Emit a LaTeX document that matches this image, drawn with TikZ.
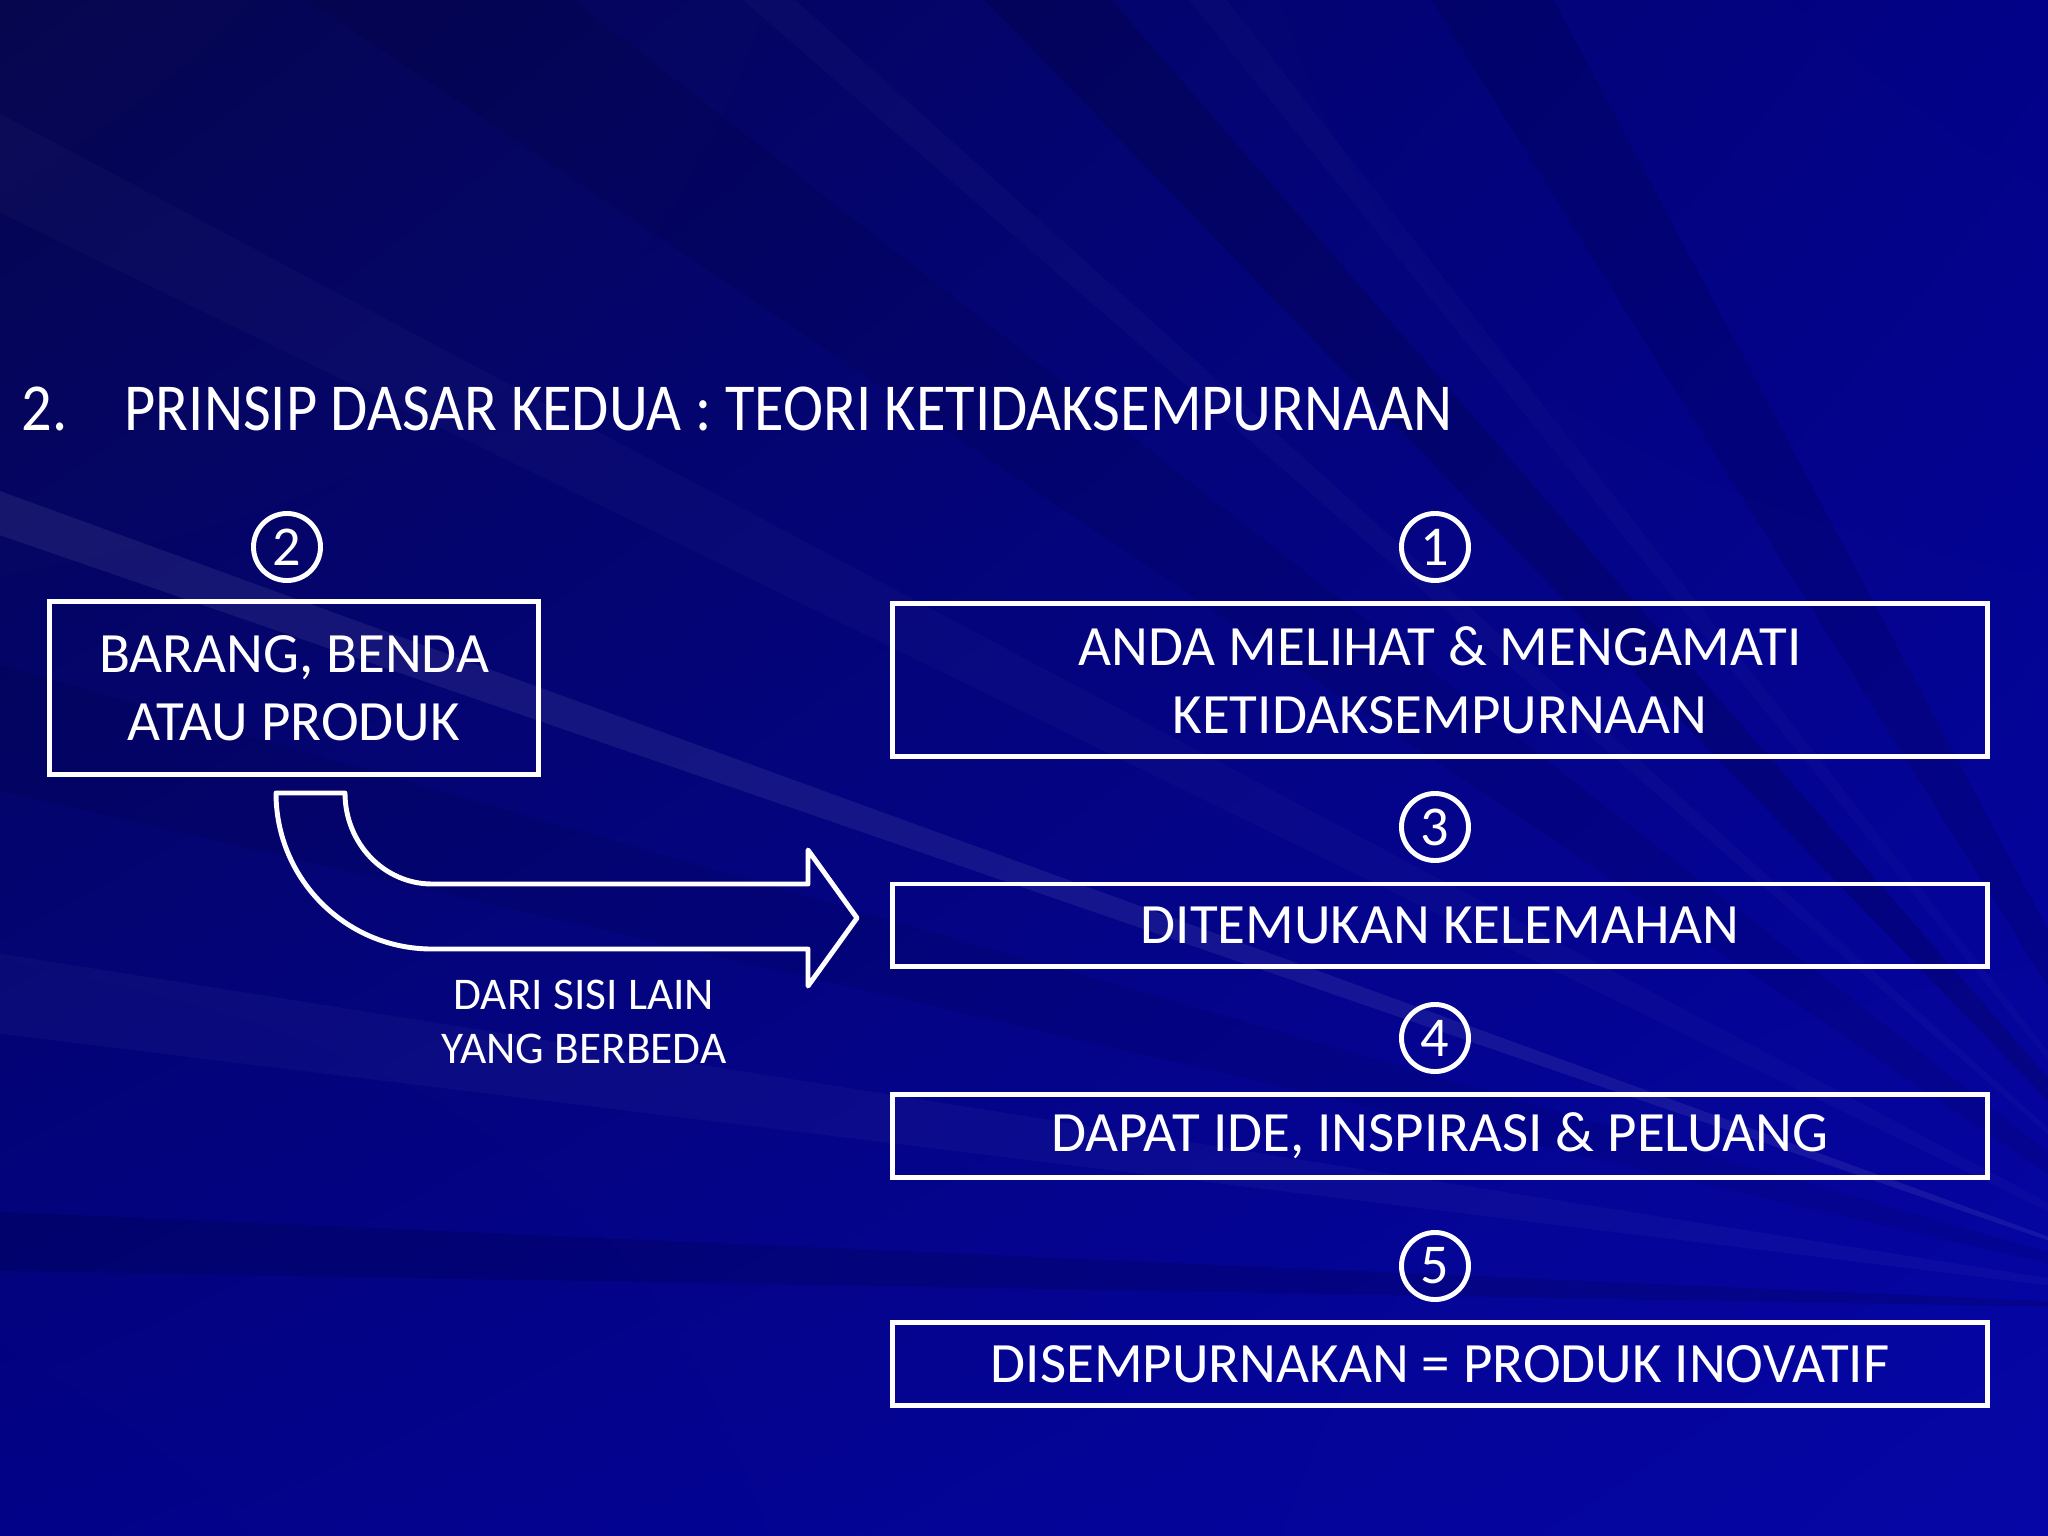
\documentclass[tikz,border=0pt]{standalone}
\usepackage{fontspec}
\setmainfont{Carlito}
\newfontfamily\titlefont[FakeStretch=0.9]{Carlito}
\usetikzlibrary{positioning}
\usetikzlibrary{shadings}
\definecolor{bgdark}{RGB}{6,6,78}
\definecolor{bgmid}{RGB}{2,2,136}
\definecolor{bglight}{RGB}{6,6,166}
\tikzset{box/.style = {draw=white, line width=1.4pt, inner sep=0pt,
                       text=white, align=center,
                       font=\fontsize{16.2}{19.4}\selectfont}}
\tikzset{num/.style = {draw=white, circle, line width=1.4pt, inner sep=0pt,
                       minimum size=0.67cm, text=white,
                       font=\fontsize{16}{18}\selectfont}}
\tikzset{every picture/.style={x=0.01cm, y=-0.01cm}}

\begin{document}
\begin{tikzpicture}
      \useasboundingbox (0,0) rectangle (2048,1536);
      \shade[upper left=bgdark, upper right=bgmid, lower left=bgmid, lower right=bglight]
        (0,0) rectangle (2048,1536);
      \begin{scope}
        \clip (0,0) rectangle (2048,1536);
        \begin{scope}[shift={(2250,1310)}]
          \foreach \a/\w/\c/\o in {238/4/black/0.10, 231/1/white/0.02, 226/3/black/0.14,
                                   221/1/white/0.025, 214/4/black/0.08, 206/2/white/0.025,
                                   199/1/white/0.07, 193/3/black/0.07, 187/2/white/0.03,
                                   181/1.5/black/0.12}
            \fill[\c, opacity=\o] (0,0) -- (\a:3000) -- ({\a+\w}:3000) -- cycle;
        \end{scope}
      \end{scope}
      \node[anchor=west, inner sep=0pt, text=white, font=\titlefont\fontsize{19.1}{22}\selectfont]
        (title) at (21,409) {\makebox[29.3pt][l]{2.}PRINSIP DASAR KEDUA : TEORI KETIDAKSEMPURNAAN};
      \node[box, minimum width=4.89cm, minimum height=1.72cm] (barang) at (294,688)
        {BARANG, BENDA\\ATAU PRODUK};
      \node[box, minimum width=10.94cm, minimum height=1.53cm] (lihat) at (1440,680)
        {ANDA MELIHAT \& MENGAMATI\\KETIDAKSEMPURNAAN};
      \node[box, minimum width=10.94cm, minimum height=0.82cm] (lemah) at (1440,925)
        {DITEMUKAN KELEMAHAN};
      \node[box, minimum width=10.94cm, minimum height=0.83cm] (ide) at (1440,1136)
        {DAPAT IDE, INSPIRASI \& PELUANG};
      \node[box, minimum width=10.94cm, minimum height=0.83cm] (inovatif) at (1440,1364)
        {DISEMPURNAKAN = PRODUK INOVATIF};
      \node[num] (n2) at (287,547) {2};
      \node[num] (n1) at (1435,547) {1};
      \node[num] (n3) at (1435,827) {3};
      \node[num] (n4) at (1435,1038) {4};
      \node[num] (n5) at (1435,1266) {5};
      \draw[white, line width=1.4pt, line join=round]
        (276,793) -- (345,793) arc[start angle=180, end angle=90, x radius=87, y radius=91]
        -- (808,884) -- (808,850) -- (857,918) -- (808,986) -- (808,949) -- (432,949)
        arc[start angle=90, end angle=180, radius=156] -- cycle;
      \node[text=white, align=center, font=\fontsize{12.9}{15.4}\selectfont]
        (sisi) at (584,1022) {DARI SISI LAIN\\YANG BERBEDA};
    \end{tikzpicture}
\end{document}
